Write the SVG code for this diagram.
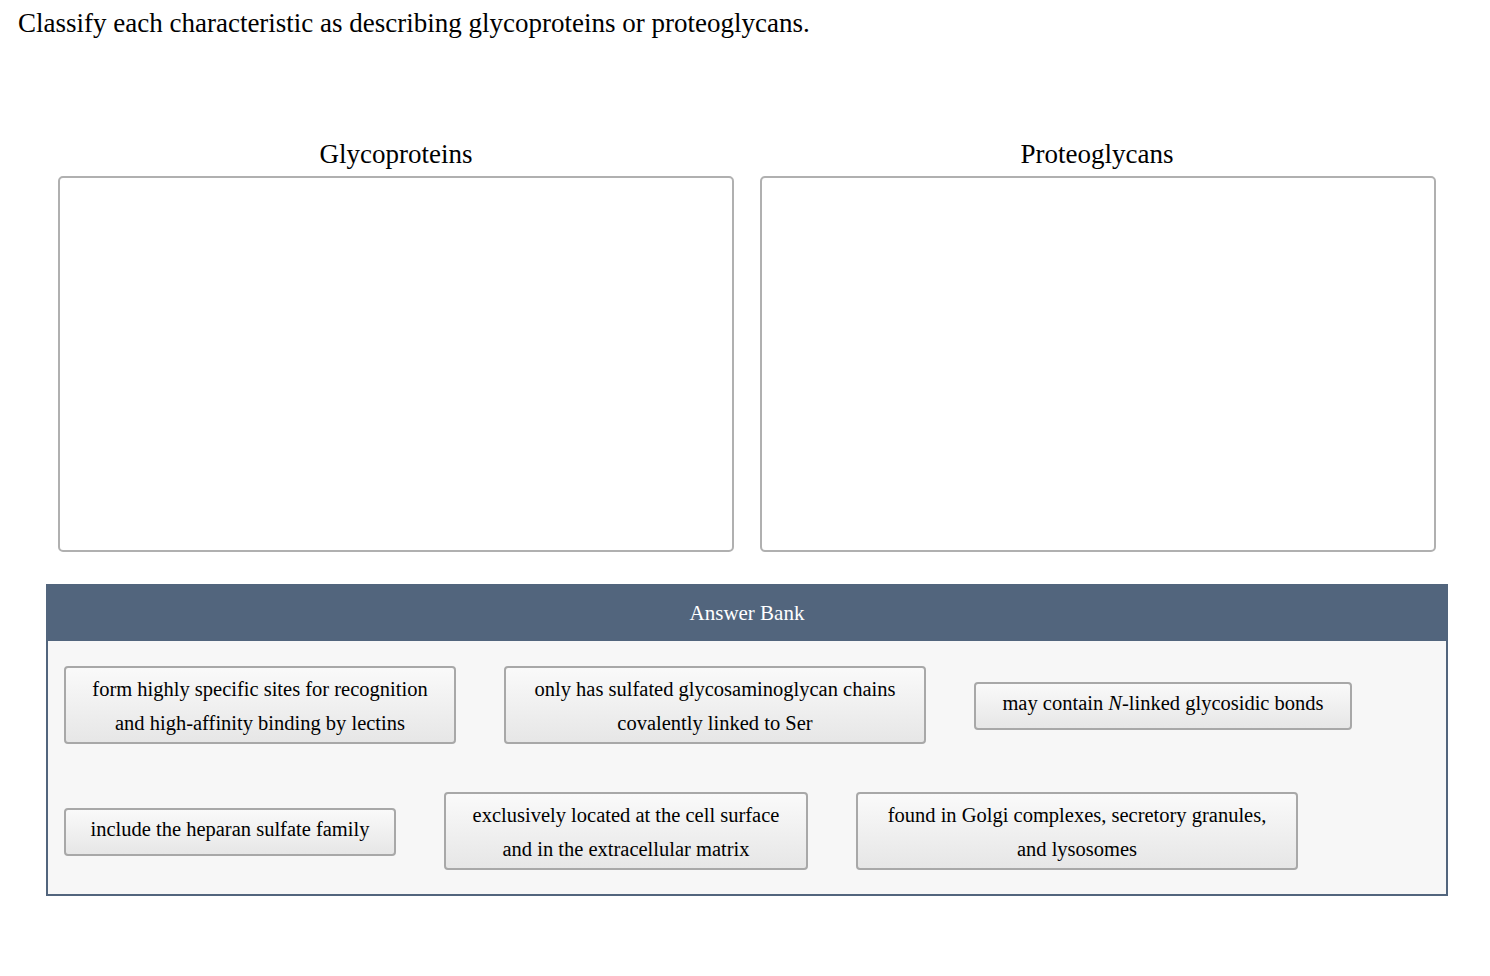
<svg xmlns="http://www.w3.org/2000/svg" width="1490" height="976" viewBox="0 0 1490 976">
<style>
text{font-family:"Liberation Serif","Times New Roman",serif;fill:#000}
.t{font-size:27px}
.h{font-size:27px;text-anchor:middle}
.c{font-size:20.5px;text-anchor:middle}
.drop{fill:#fff;stroke:#b0b0b0;stroke-width:2}
.chip rect{fill:url(#g);stroke:#a8a8a8;stroke-width:2}
</style>
<defs><linearGradient id="g" x1="0" y1="0" x2="0" y2="1"><stop offset="0" stop-color="#fafafa"/><stop offset="1" stop-color="#e6e6e6"/></linearGradient></defs>
<rect width="1490" height="976" fill="#fff"/>
<text class="t" x="18" y="32">Classify each characteristic as describing glycoproteins or proteoglycans.</text>
<g id="glyco"><text class="h" x="396" y="163">Glycoproteins</text><rect class="drop" x="59" y="177" width="674" height="374" rx="4"/></g>
<g id="proteo"><text class="h" x="1097" y="163">Proteoglycans</text><rect class="drop" x="761" y="177" width="674" height="374" rx="4"/></g>
<g id="bank">
<rect x="47" y="585" width="1400" height="310" fill="#f7f7f7" stroke="#52657d" stroke-width="2"/>
<rect x="47" y="585" width="1400" height="56" fill="#52657d"/>
<text x="747" y="620" style="font-size:21px;text-anchor:middle;fill:#fff">Answer Bank</text>
</g>
<g id="chip1" class="chip"><rect x="65" y="667" width="390" height="76" rx="3"/><text class="c" x="260" y="696">form highly specific sites for recognition</text><text class="c" x="260" y="730">and high-affinity binding by lectins</text></g>
<g id="chip2" class="chip"><rect x="505" y="667" width="420" height="76" rx="3"/><text class="c" x="715" y="696">only has sulfated glycosaminoglycan chains</text><text class="c" x="715" y="730">covalently linked to Ser</text></g>
<g id="chip3" class="chip"><rect x="975" y="683" width="376" height="46" rx="3"/><text class="c" x="1163" y="710">may contain <tspan font-style="italic">N</tspan>-linked glycosidic bonds</text></g>
<g id="chip4" class="chip"><rect x="65" y="809" width="330" height="46" rx="3"/><text class="c" x="230" y="836">include the heparan sulfate family</text></g>
<g id="chip5" class="chip"><rect x="445" y="793" width="362" height="76" rx="3"/><text class="c" x="626" y="822">exclusively located at the cell surface</text><text class="c" x="626" y="856">and in the extracellular matrix</text></g>
<g id="chip6" class="chip"><rect x="857" y="793" width="440" height="76" rx="3"/><text class="c" x="1077" y="822">found in Golgi complexes, secretory granules,</text><text class="c" x="1077" y="856">and lysosomes</text></g>
<g id="connectors"/>
</svg>
